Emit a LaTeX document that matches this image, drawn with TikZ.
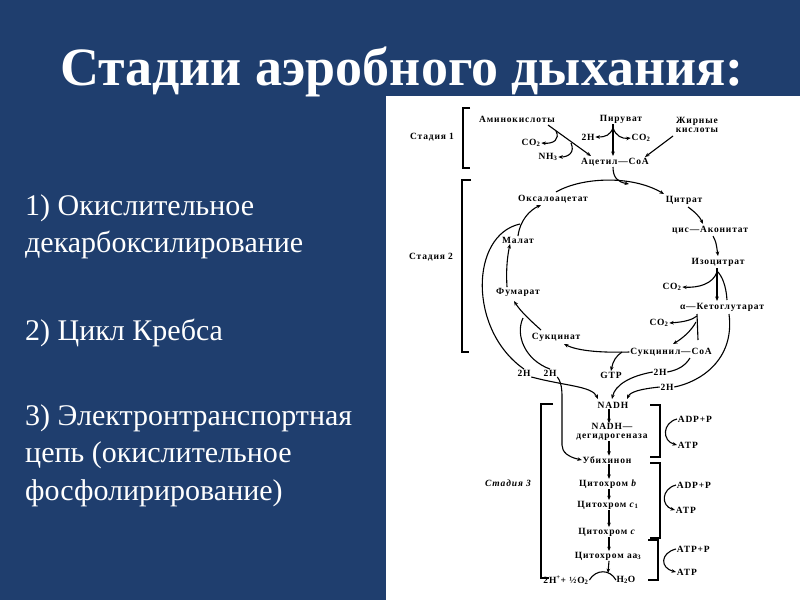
\documentclass[tikz,border=0pt]{standalone}
\usepackage{fontspec}
\setmainfont{Liberation Serif}
\newfontfamily\dfont[LetterSpace=9]{Liberation Serif}
\usetikzlibrary{arrows.meta}
\definecolor{bg}{RGB}{31,62,110}
\tikzset{
  ttl/.style={font=\fontsize{54}{58}\selectfont\bfseries, text=white, inner sep=0pt, anchor=base},
  lt/.style={font=\fontsize{30}{34}\selectfont, text=white, anchor=base west, inner sep=0pt},
  t/.style={font=\fontsize{9.5}{10}\selectfont\dfont\bfseries, inner sep=0.6pt, align=center},
  ln/.style={line width=1.1pt, black},
  arr/.style={ln, -{Stealth[length=4.5pt,width=3.6pt]}},
}
\begin{document}
\begin{tikzpicture}[x=1pt,y=-1pt]
\useasboundingbox (0,0) rectangle (800,600);
\fill[bg] (0,0) rectangle (800,600);
\fill[white] (386,96) rectangle (800,600);

% title and left text
\node[ttl] (title) at (402,85) {Стадии аэробного дыхания:};
\node[lt] (l1) at (25,215) {1) Окислительное};
\node[lt] (l2) at (25,252) {декарбоксилирование};
\node[lt] (l3) at (25,340) {2) Цикл Кребса};
\node[lt] (l4) at (25,425) {3) Электронтранспортная};
\node[lt] (l5) at (25,462) {цепь (окислительное};
\node[lt] (l6) at (25,500) {фосфолирирование)};

% ---------- stage 1 ----------
\node[t] (st1) at (432,137) {Стадия 1};
\node[t] (amino) at (517,119) {Аминокислоты};
\node[t] (pir) at (621,119) {Пируват};
\node[t, inner sep=0pt] (fat) at (697,124.5) {Жирные\\[-1pt]кислоты};
\node[t] (co2a) at (531,143) {CO\textsubscript{2}};
\node[t] (nh3) at (548,157) {NH\textsubscript{3}};
\node[t] (h2a) at (588,137) {2H};
\node[t] (co2b) at (641,138) {CO\textsubscript{2}};
\node[t] (acet) at (615,162) {Ацетил—CoA};
\draw[ln] (470,108) -- (463,108) -- (463,168) -- (470,168);

\draw[arr] (548,125) -- (591,156);
\draw[arr] (556,131) .. controls (560,139) and (554,144) .. (co2a.east);
\draw[arr] (571,143) .. controls (575,152) and (569,157) .. (nh3.east);
\draw[arr] (613,124) -- (613,156);
\draw[arr] (613,128) .. controls (610,135) and (606,137) .. (h2a.east);
\draw[arr] (613,128) .. controls (616,136) and (622,139) .. (co2b.west);
\draw[arr] (673,136) -- (645,157);
\draw[arr] (613,167) .. controls (613,178) and (618,182) .. (629,184);

% ---------- stage 2 ----------
\node[t] (st2) at (431,257) {Стадия 2};
\node[t] (oxa) at (553,199) {Оксалоацетат};
\node[t] (cit) at (684,200) {Цитрат};
\node[t] (cis) at (710,230) {цис—Аконитат};
\node[t] (iso) at (718,262) {Изоцитрат};
\node[t] (co2c) at (672,287) {CO\textsubscript{2}};
\node[t] (akg) at (722,307) {α—Кетоглутарат};
\node[t] (co2d) at (659,323) {CO\textsubscript{2}};
\node[t] (sucoa) at (671,352) {Сукцинил—CoA};
\node[t] (suc) at (556,337) {Сукцинат};
\node[t] (fum) at (518,292) {Фумарат};
\node[t] (mal) at (518,240) {Малат};
\node[t] (gtp) at (611,375) {GTP};
\node[t] (h2b) at (524,373) {2H};
\node[t] (h2c) at (550,373) {2H};
\node[t] (h2d) at (660,372) {2H};
\node[t] (h2e) at (667,387) {2H};
\draw[ln] (471,180) -- (462,180) -- (462,352) -- (469,352);

\draw[arr] (556,192) .. controls (582,177) and (632,175) .. (664,194);
\draw[arr] (mal.north) .. controls (520,220) and (530,210) .. (541,205);
\draw[ln] (520,224) .. controls (470,235) and (468,330) .. (h2b.north);
\draw[arr] ([xshift=-11pt]fum.north) .. controls (506,272) and (507,258) .. ([xshift=-8pt]mal.south);
\draw[arr] (541,330) .. controls (531,321) and (521,312) .. (514,301);
\draw[ln] (523,318) .. controls (515,335) and (525,360) .. (h2c.north);
\draw[arr] (sucoa.west) .. controls (596,353) and (576,350) .. (564,344);
\draw[arr] (622,352) .. controls (616,356) and (613,361) .. (gtp.north);
\draw[arr] (688,207) .. controls (695,212) and (700,217) .. (703,224);
\draw[arr] (713,236) .. controls (716,242) .. (718,256);
\draw[arr] (717,268) -- (717,301);
\draw[arr] (717,272) .. controls (713,284) and (698,288) .. (co2c.east);
\draw[ln] (717,271) .. controls (722,276) and (726,285) .. (727,300);
\draw[ln] (729,314) .. controls (735,360) and (700,382) .. (h2e.east);
\draw[ln] (697,314) -- (698,340);
\draw[arr] (697,316) .. controls (692,320) and (684,322) .. (co2d.east);
\draw[arr] (696,322) .. controls (691,331) and (683,338) .. (673,344);
\draw[ln] (690,358) .. controls (685,366) and (678,370) .. (h2d.east);

% ---------- stage 3 ----------
\coordinate (col) at (609,0);
\node[t] (st3) at (508,483) {\itshape Стадия 3};
\node[t] (nadh) at (613,405) {NADH};
\node[t, inner sep=0pt] (nadhd) at (612,432) {NADH—\\[-1pt]дегидрогеназа};
\node[t] (ubi) at (607,460) {Убихинон};
\node[t] (cytb) at (608,484) {Цитохром \textit{b}};
\node[t] (cytc1) at (608,505) {Цитохром \textit{c}\textsubscript{1}};
\node[t] (cytc) at (607,532) {Цитохром \textit{c}};
\node[t] (cytaa) at (608,556) {Цитохром aa\textsubscript{3}};
\node[t] (h2o2) at (566,580) {2H\textsuperscript{+}+ ½O\textsubscript{2}};
\node[t] (h2o) at (626,580) {H\textsubscript{2}O};
\coordinate (peak) at (608,573);
\draw[ln] (553,404) -- (541,404) -- (541,578) -- (549,578);

\draw[arr] (h2b.south east) .. controls (565,386) and (592,386) .. (598,399);
\draw[arr] (h2c.south east) .. controls (560,380) and (562,386) .. (562,396) -- (562,445) .. controls (562,452) and (568,457) .. (ubi.west);
\draw[arr] (h2d.west) .. controls (630,376) and (615,385) .. (612,399);
\draw[arr] (h2e.west) .. controls (640,389) and (630,392) .. (627,399);

\draw[arr] (nadh.south -| col) -- (nadhd.north -| col);
\draw[arr] (nadhd.south -| col) -- (ubi.north -| col);
\draw[arr] (ubi.south -| col) -- (cytb.north -| col);
\draw[arr] (cytb.south -| col) -- (cytc1.north -| col);
\draw[arr] (cytc1.south -| col) -- (cytc.north -| col);
\draw[arr] (cytc.south -| col) -- (cytaa.north -| col);
\draw[arr] (cytaa.south -| col) -- (peak);
\draw[ln] (h2o2.east) .. controls (596,569) and (610,569) .. (h2o.west);

\node[t, anchor=west] (adp1) at (677,419) {ADP+P};
\node[t, anchor=west] (atp1) at (677,445) {ATP};
\node[t, anchor=west] (adp2) at (676,485) {ADP+P};
\node[t, anchor=west] (atp2) at (675,510) {ATP};
\node[t, anchor=west] (adp3) at (676,549) {ATP+P};
\node[t, anchor=west] (atp3) at (676,572) {ATP};
\draw[ln] (650,405) -- (660,405) -- (660,457) -- (650,457);
\draw[ln] (650,463) -- (660,463) -- (660,538) -- (650,538);
\draw[ln] (648,540) -- (658,540) -- (658,580) -- (648,580);
\draw[arr] (adp1.west) .. controls (662,423) and (662,441) .. (atp1.west);
\draw[arr] (adp2.west) .. controls (661,489) and (661,506) .. (atp2.west);
\draw[arr] (adp3.west) .. controls (660,553) and (660,568) .. (atp3.west);
\end{tikzpicture}
\end{document}
